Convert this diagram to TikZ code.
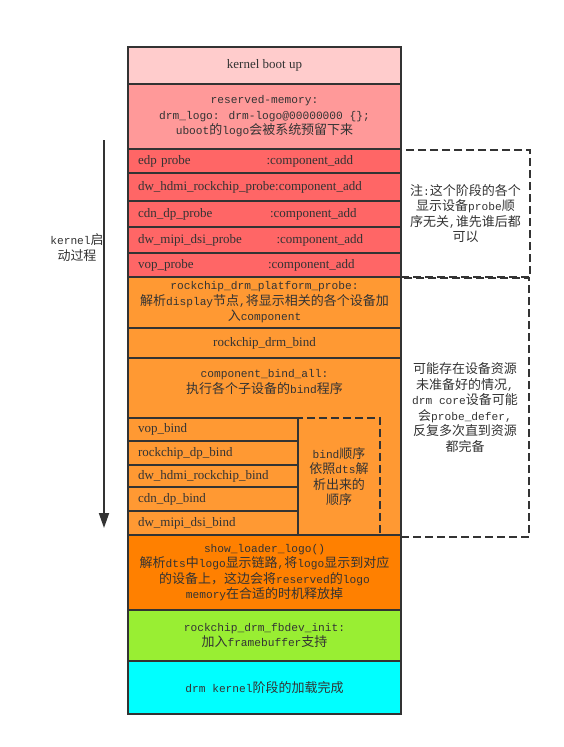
\documentclass[tikz,border=0pt]{standalone}
\usepackage{fontspec}
\setmainfont{Liberation Serif}
\newfontfamily\mono{Liberation Mono}
\newfontfamily\cjk[Scale=1.16]{Noto Sans CJK SC}
\usetikzlibrary{arrows.meta}
\newcommand\zh[1]{{\cjk #1}}
\definecolor{cboot}{HTML}{FFCCCC}
\definecolor{cresv}{HTML}{FF9999}
\definecolor{cred}{HTML}{FF6666}
\definecolor{corange}{HTML}{FF9933}
\definecolor{cshow}{HTML}{FF8000}
\definecolor{cfb}{HTML}{99EE33}
\definecolor{ccyan}{HTML}{00FFFF}
\definecolor{cline}{HTML}{333333}
\definecolor{ctext}{HTML}{333333}
\begin{document}
\begin{tikzpicture}[x=1pt,y=-1pt,
  monofont/.style={font=\mono\fontsize{11.2}{15.5}\selectfont},
  serif/.style={font=\fontsize{13}{16}\selectfont},
  box/.style={draw=cline, line width=1.6pt, minimum width=273pt, inner xsep=0pt, inner ysep=0pt, text=ctext, align=center, monofont},
  lrow/.style={box, serif, align=left, text width=253pt, inner xsep=10pt},
  srow/.style={draw=cline, line width=1.6pt, minimum width=170pt, text width=150pt, inner xsep=10pt, inner ysep=0pt, text=ctext, align=left, serif},
  dbox/.style={draw=cline, line width=1.8pt, dash pattern=on 8pt off 4pt, inner sep=0pt, text=ctext, align=center, monofont},
  plain/.style={inner sep=0pt, text=ctext, align=center, monofont}
]
\useasboundingbox (0,0) rectangle (564,747);
\fill[white] (0,0) rectangle (564,747);

\node[box, serif, fill=cboot, minimum height=37pt] (boot) at (264.5,65.5) {kernel boot up};
\node[box, fill=cresv, minimum height=65pt] (resv) at (264.5,116.5) {reserved-memory:\\drm\_logo: drm-logo@00000000 \{\};\\uboot\zh{的}logo\zh{会被系统预留下来}};

\node[lrow, fill=cred, minimum height=24pt] (edp) at (264.5,161) {\makebox[128.5pt][l]{edp probe}:component\_add};
\node[lrow, fill=cred, minimum height=28pt] (hdmi) at (264.5,187) {dw\_hdmi\_rockchip\_probe:component\_add};
\node[lrow, fill=cred, minimum height=26pt] (cdn) at (264.5,214) {\makebox[132pt][l]{cdn\_dp\_probe}:component\_add};
\node[lrow, fill=cred, minimum height=26pt] (mipi) at (264.5,240) {\makebox[138.5pt][l]{dw\_mipi\_dsi\_probe}:component\_add};
\node[lrow, fill=cred, minimum height=24pt] (vopp) at (264.5,265) {\makebox[130pt][l]{vop\_probe}:component\_add};

\node[box, fill=corange, minimum height=51pt] (plat) at (264.5,302.5) {rockchip\_drm\_platform\_probe:\\\zh{解析}display\zh{节点},\zh{将显示相关的各个设备加}\\\zh{入}component};
\node[box, serif, fill=corange, minimum height=30pt] (rbind) at (264.5,343) {rockchip\_drm\_bind};
\node[box, fill=corange, minimum height=177pt] (ball) at (264.5,446.5) {};
\node[plain] (balltxt) at (264.5,382) {component\_bind\_all:\\\zh{执行各个子设备的}bind\zh{程序}};

\node[srow, fill=corange, minimum height=23pt] (vopb) at (213,429.5) {vop\_bind};
\node[srow, fill=corange, minimum height=24pt] (dpb) at (213,453) {rockchip\_dp\_bind};
\node[srow, fill=corange, minimum height=22pt] (hdmib) at (213,476) {dw\_hdmi\_rockchip\_bind};
\node[srow, fill=corange, minimum height=24pt] (cdnb) at (213,499) {cdn\_dp\_bind};
\node[srow, fill=corange, minimum height=24pt] (mipib) at (213,523) {dw\_mipi\_dsi\_bind};
\node[dbox, minimum width=82pt, minimum height=117pt] (bindn) at (339,476.5) {bind\zh{顺序}\\\zh{依照}dts\zh{解}\\\zh{析出来的}\\\zh{顺序}};

\node[box, fill=cshow, minimum height=75pt] (show) at (264.5,572.5) {show\_loader\_logo()\\\zh{解析}dts\zh{中}logo\zh{显示链路},\zh{将}logo\zh{显示到对应}\\\zh{的设备上，这边会将}reserved\zh{的}logo\\memory\zh{在合适的时机释放掉}};
\node[box, fill=cfb, minimum height=51pt] (fb) at (264.5,635.5) {rockchip\_drm\_fbdev\_init:\\\zh{加入}framebuffer\zh{支持}};
\node[box, fill=ccyan, minimum height=53pt] (done) at (264.5,687.5) {drm kernel\zh{阶段的加载完成}};

\node[dbox, minimum width=129pt, minimum height=127pt] (note1) at (465.5,213.5) {\zh{注}:\zh{这个阶段的各个}\\\zh{显示设备}probe\zh{顺}\\\zh{序无关},\zh{谁先谁后都}\\\zh{可以}};
\node[dbox, minimum width=128pt, minimum height=259pt] (note2) at (465,407.5) {\zh{可能存在设备资源}\\\zh{未准备好的情况},\\drm core\zh{设备可能}\\\zh{会}probe\_defer,\\\zh{反复多次直到资源}\\\zh{都完备}};

\coordinate (atop) at (104,140);
\coordinate (abot) at (104,528);
\draw[cline, line width=1.8pt, -{Triangle[width=10pt,length=15pt]}] (atop) -- (abot);
\node[plain] (alab) at (77,247.5) {kernel\zh{启}\\\zh{动过程}};
\end{tikzpicture}
\end{document}
